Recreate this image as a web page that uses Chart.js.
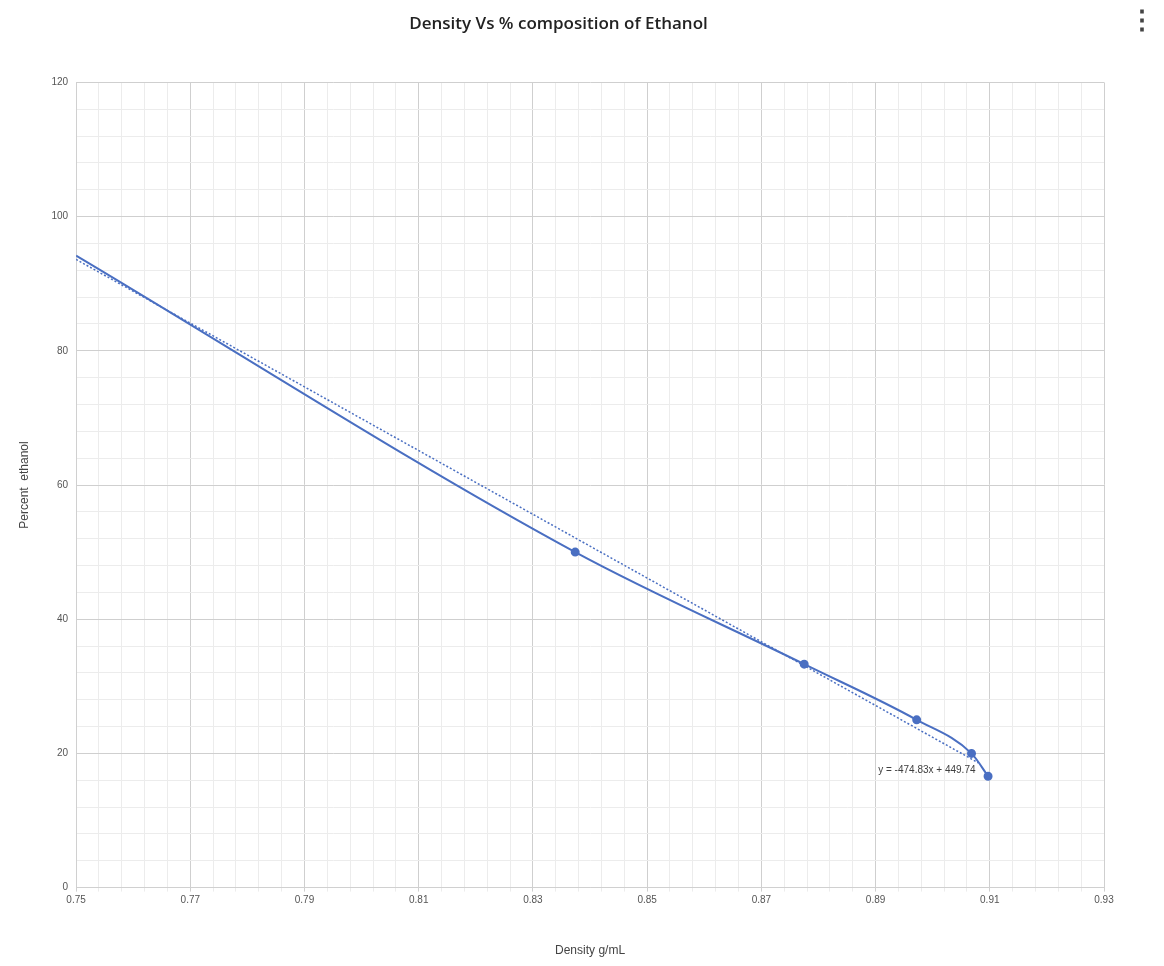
<!DOCTYPE html>
<html><head><meta charset="utf-8">
<script src="https://cdn.jsdelivr.net/npm/chart.js@4"></script>
<style>body{margin:0;background:#fff}#w{position:absolute;left:0;top:0;width:1164px;height:966px}</style>
</head><body><div id="w"><canvas id="c"></canvas></div>
<script>
const density = [0.75, 0.8374, 0.8775, 0.8972, 0.9068, 0.9097];
const percent = [94.2, 50, 33.3, 25, 20, 16.6];
const markerShown = [false, true, true, true, true, true];
const trendSlope = -474.83, trendIntercept = 449.74;
const trendRange = [0.75, 0.908];
const trendLabel = "y = -474.83x + 449.74";
const xMajor = [0.75,0.77,0.79,0.81,0.83,0.85,0.87,0.89,0.91,0.93];

const blue = '#4a6fc2';
const pts = density.map((x,i)=>({x, y: percent[i]}));
const trend = trendRange.map(x=>({x, y: trendSlope*x+trendIntercept}));
const isMajor = v => xMajor.some(m=>Math.abs(m-v)<1e-6);

const labelPlugin = {id:'lbl', afterDatasetsDraw(ch){
  const c=ch.ctx, xs=ch.scales.x, ys=ch.scales.y;
  c.save(); c.font='10px "Liberation Sans", Arial'; c.fillStyle='#404040';
  c.textAlign='right'; c.textBaseline='middle';
  c.fillText(trendLabel, xs.getPixelForValue(0.9075), ys.getPixelForValue(17.5));
  c.fillStyle='#444'; c.font='bold 26px "Liberation Sans"'; c.textAlign='center';
  c.fillText('⋮', 1142, 22);
  c.restore();
}};

new Chart(document.getElementById('c'), {
  type:'scatter',
  data:{datasets:[
    {data:pts, showLine:true, cubicInterpolationMode:'monotone', borderColor:blue, borderWidth:2,
     backgroundColor:blue, pointRadius:markerShown.map(s=>s?3.5:0), pointHoverRadius:0},
    {data:trend, showLine:true, borderColor:blue, borderWidth:1.5, borderDash:[2,2], pointRadius:0}
  ]},
  options:{responsive:true, maintainAspectRatio:false, animation:false,
    layout:{padding:{left:13,right:60,top:10,bottom:4}},
    plugins:{legend:{display:false}, tooltip:{enabled:false},
      title:{display:true, text:'Density Vs % composition of Ethanol', color:'#222',
        font:{family:'"Open Sans"', size:17, weight:'600'}, padding:{top:4,bottom:48}}},
    scales:{
      x:{type:'linear', min:0.75, max:0.93, border:{color:'#d0d0d0'},
        afterBuildTicks(s){const t=[];for(let i=0;i<=45;i++)t.push({value:+(0.75+i*0.004).toFixed(3)});s.ticks=t;},
        ticks:{autoSkip:false, maxRotation:0, color:'#555', font:{size:10},
          callback:v=>isMajor(v)?v.toFixed(2):''},
        grid:{color:c=>isMajor(c.tick.value)?'#cfcfcf':'#ececec', tickLength:4},
        title:{display:true, text:'Density g/mL', color:'#444', font:{size:12}, padding:{top:34}}},
      y:{min:0, max:120, border:{color:'#d0d0d0'},
        afterBuildTicks(s){const t=[];for(let v=0;v<=120;v+=4)t.push({value:v});s.ticks=t;},
        ticks:{autoSkip:false, color:'#555', font:{size:10}, padding:8,
          callback:v=>v%20===0?String(v):''},
        grid:{color:c=>c.tick.value%20===0?'#cfcfcf':'#ececec', tickLength:0},
        title:{display:true, text:'Percent  ethanol', color:'#444', font:{size:12}, padding:{bottom:12}}}
    }},
  plugins:[labelPlugin]
});
</script></body></html>
